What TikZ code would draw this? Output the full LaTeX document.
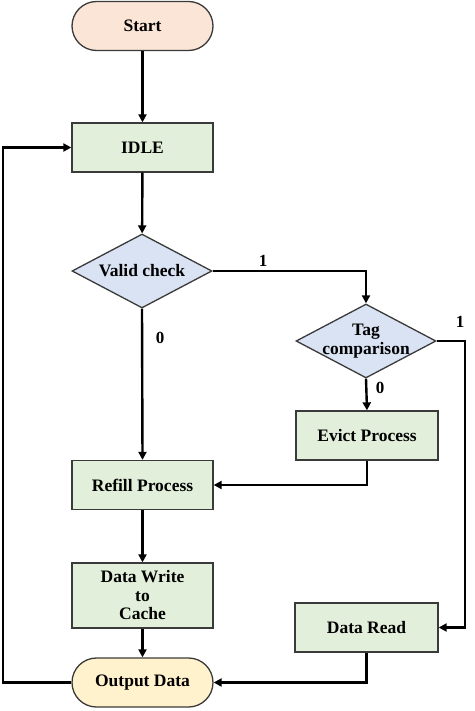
\documentclass[tikz,border=0pt]{standalone}
\usepackage{fontspec}
\setmainfont{Liberation Serif}
\usetikzlibrary{arrows.meta,shapes.geometric}
\definecolor{peach}{HTML}{FBE5D6}
\definecolor{lgreen}{HTML}{E2EFDA}
\definecolor{lblue}{HTML}{DAE3F3}
\definecolor{lyellow}{HTML}{FFF2CC}
\definecolor{bord}{HTML}{3A3A3A}
\tikzset{
  txt/.style={font=\fontsize{17.5}{18.5}\selectfont\bfseries, align=center, inner sep=0pt},
  procbox/.style={draw=bord, line width=1.3pt, fill=lgreen, minimum width=141pt, minimum height=49pt, inner sep=0pt, txt},
  termbox/.style={draw=bord, line width=1.3pt, minimum width=141pt, minimum height=49pt, rounded corners=24.5pt, inner sep=0pt, txt},
  decbox/.style={draw=bord, line width=1.3pt, fill=lblue, diamond, minimum width=140pt, minimum height=74pt, inner sep=0pt},
  conn/.style={line width=2.4pt, -{Triangle[length=8pt,width=8pt]}},
  lbl/.style={font=\fontsize{17}{18}\selectfont\bfseries, inner sep=0pt}
}
\begin{document}
\begin{tikzpicture}[x=1pt,y=-1pt]
\useasboundingbox (0,0) rectangle (474,711);
\node[termbox, fill=peach] (start) at (142.5,26) {Start};
\node[procbox] (idle) at (142.5,147.5) {IDLE};
\node[decbox] (vc) at (142,271) {};
\node[txt] at (vc) {Valid check};
\node[decbox] (tag) at (366,341) {};
\node[txt] at (tag) {Tag\\comparison};
\node[procbox, minimum width=142pt] (evict) at (367,435.5) {Evict Process};
\node[procbox] (refill) at (142.5,485) {Refill Process};
\node[procbox, minimum height=65pt] (write) at (142.5,595.5) {Data Write\\to\\Cache};
\node[procbox, minimum width=143pt] (read) at (366.5,627.5) {Data Read};
\node[termbox, fill=lyellow] (out) at (142.5,682.5) {Output Data};
\coordinate (rc) at (465,341);
\coordinate (lc) at (3,682.5);
\draw[conn] (start) -- (idle);
\draw[conn] (idle) -- (vc);
\draw[conn] (vc.east) -| (tag.north);
\draw[conn] (vc.south) -- (refill.north);
\draw[conn] (tag.south) -- (evict.north);
\draw[conn] (tag.east) -- (rc) |- (read.east);
\draw[conn] (evict.south) |- (refill.east);
\draw[conn] (refill.south) -- (write.north);
\draw[conn] (write.south) -- (out.north);
\draw[conn] (read.south) |- (out.east);
\draw[conn] (out.west) -- (lc) |- (idle.west);
\node[lbl] at (263,261) {1};
\node[lbl] at (160,338) {0};
\node[lbl] at (460,322) {1};
\node[lbl] at (380,388) {0};
\end{tikzpicture}
\end{document}
